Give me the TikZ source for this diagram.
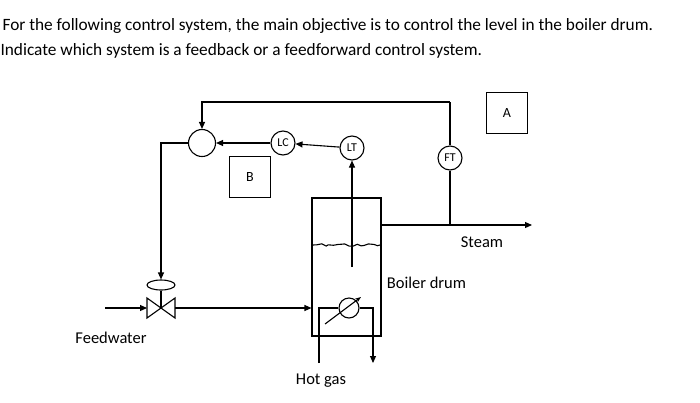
\documentclass[tikz,border=0pt]{standalone}
\usepackage{fontspec}
\setmainfont{Carlito}
\usetikzlibrary{arrows.meta,decorations.pathmorphing,shapes.geometric}
\begin{document}
\begin{tikzpicture}[x=1pt,y=-1pt,line width=1.1pt,
  >={Triangle[length=7pt,width=6pt]},
  inst/.style={circle,draw,minimum size=24pt,inner sep=0pt,font=\fontsize{12}{13}\selectfont},
  box/.style={draw,minimum width=41pt,minimum height=41pt,font=\fontsize{14}{15}\selectfont},
  lab/.style={font=\fontsize{16.5}{18}\selectfont}]
\useasboundingbox (0,0) rectangle (700,402);
\node[anchor=west,inner sep=0pt,font=\fontsize{17.3}{19}\selectfont] (t1) at (2,26) {For the following control system, the main objective is to control the level in the boiler drum.};
\node[anchor=west,inner sep=0pt,font=\fontsize{17.3}{19}\selectfont] (t2) at (0,51) {Indicate which system is a feedback or a feedforward control system.};
\node[circle,draw,minimum size=27pt,inner sep=0pt] (sum) at (202,143) {};
\node[inst] (lc) at (283,143) {LC};
\node[inst] (lt) at (352,148) {LT};
\node[inst] (ft) at (450,158) {FT};
\node[box] (A) at (507,113) {A};
\node[box] (B) at (250,177) {B};
\node[draw,minimum width=69pt,minimum height=138pt,inner sep=0pt] (drum) at (346.5,267) {};
\coordinate (top) at (202,102);
\coordinate (ftop) at (450,102);
\coordinate (sj) at (450,225);
\coordinate (steamend) at (532,225);
\coordinate (ltb) at (352,267);
\coordinate (lft) at (161,143);
\node[ellipse,draw,minimum width=28pt,minimum height=10pt,inner sep=0pt] (act) at (161,285) {};
\coordinate (vc) at (161,308);
\coordinate (fwin) at (105,308);
\draw (ftop) -- (ft);
\draw[->] (ftop) -- (top) -- (sum);
\draw[->] (lt) -- (lc);
\draw[->] (lc) -- (sum);
\draw (ft) -- (sj);
\draw[->] (drum.east |- sj) -- (steamend);
\draw[->] (ltb) -- (lt);
\draw[->] (sum.west) -- (lft) -- (act.north);
\draw (act.south) -- (vc);
\draw (147,298) -- (175,318) -- (175,298) -- (147,318) -- cycle;
\coordinate (vl) at (147,308);
\coordinate (vr) at (175,308);
\draw[->] (fwin) -- (vl);
\draw[->] (vr) -- (drum.west |- vr);
\draw[decorate,decoration={random steps,segment length=4pt,amplitude=1.2pt}] (313,245) -- (380,245);
% heater
\node[circle,draw,minimum size=20pt,inner sep=0pt,fill=white] (ht) at (349,308) {};
\draw (319,363) -- (319,308) -- (ht.west);
\draw[->] (ht.east) -- (373,308) -- (373,363);
\draw[-{Stealth[length=6pt]}] (325,324) -- (361,297);
\node[lab] (steam) at (482,242) {Steam};
\node[lab,anchor=west] (bd) at (383,283) {Boiler drum};
\node[lab] (fw) at (111,338) {Feedwater};
\node[lab] (hg) at (321,381) {Hot gas};
\end{tikzpicture}
\end{document}
